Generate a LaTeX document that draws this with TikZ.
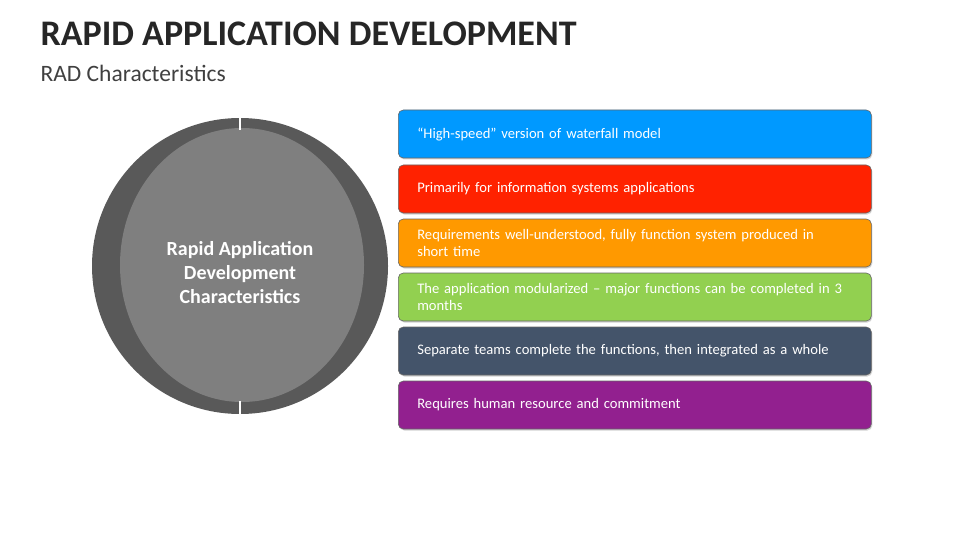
\documentclass[tikz,border=0pt]{standalone}
\usepackage{fontspec}
\setmainfont{Carlito}
\usetikzlibrary{shadows}
\definecolor{radblue}{HTML}{0099FF}
\definecolor{radred}{HTML}{FF2200}
\definecolor{radorange}{HTML}{FF9900}
\definecolor{radgreen}{HTML}{92D050}
\definecolor{radslate}{HTML}{44546A}
\definecolor{radpurple}{HTML}{92208F}
\definecolor{raddark}{HTML}{595959}
\definecolor{radmid}{HTML}{7F7F7F}
\tikzset{
  itembox/.style={draw=black!60, line width=0.6pt, rounded corners=5pt, minimum width=473pt, minimum height=48pt,
    drop shadow={shadow xshift=1pt, shadow yshift=-1.5pt, opacity=0.35}, text=white, font=\fontsize{14.6}{17}\selectfont,
    align=left, text width=473pt, inner sep=0pt, anchor=west}
}
\begin{document}
\begin{tikzpicture}[x=1pt,y=-1pt]
    \useasboundingbox(0,0)rectangle(960,540);
    \node[anchor=west, font=\fontsize{36}{40}\selectfont\bfseries, text=black!85](title)at(37,34){RAPID APPLICATION DEVELOPMENT};
    \node[anchor=west, font=\fontsize{23.5}{26}\selectfont, text=black!75](sub)at(37,73){RAD Characteristics};

    \fill[raddark](240,266)circle(148);
    \fill[radmid](242,265)ellipse[x radius=122, y radius=137];
    \draw[white, line width=2pt](240,116)--(240,130);
    \draw[white, line width=2pt](240,401)--(240,416);
    \node[text=white, align=center, font=\fontsize{20}{24}\selectfont\bfseries](core)at(240,273){Rapid Application\\Development\\Characteristics};

    \node[itembox, fill=radblue](i1)at(398,134){\hspace*{19pt}“High-speed” version of waterfall model};
    \node[itembox, fill=radred](i2)at(398,189){\hspace*{19pt}Primarily for information systems applications};
    \node[itembox, fill=radorange](i3)at(398,243){\hspace*{19pt}Requirements well-understood, fully function system produced in\\\hspace*{19pt}short time};
    \node[itembox, fill=radgreen](i4)at(398,297){\hspace*{19pt}The application modularized – major functions can be completed in 3\\\hspace*{19pt}months};
    \node[itembox, fill=radslate](i5)at(398,351){\hspace*{19pt}Separate teams complete the functions, then integrated as a whole};
    \node[itembox, fill=radpurple](i6)at(398,405){\hspace*{19pt}Requires human resource and commitment};
\end{tikzpicture}
\end{document}
